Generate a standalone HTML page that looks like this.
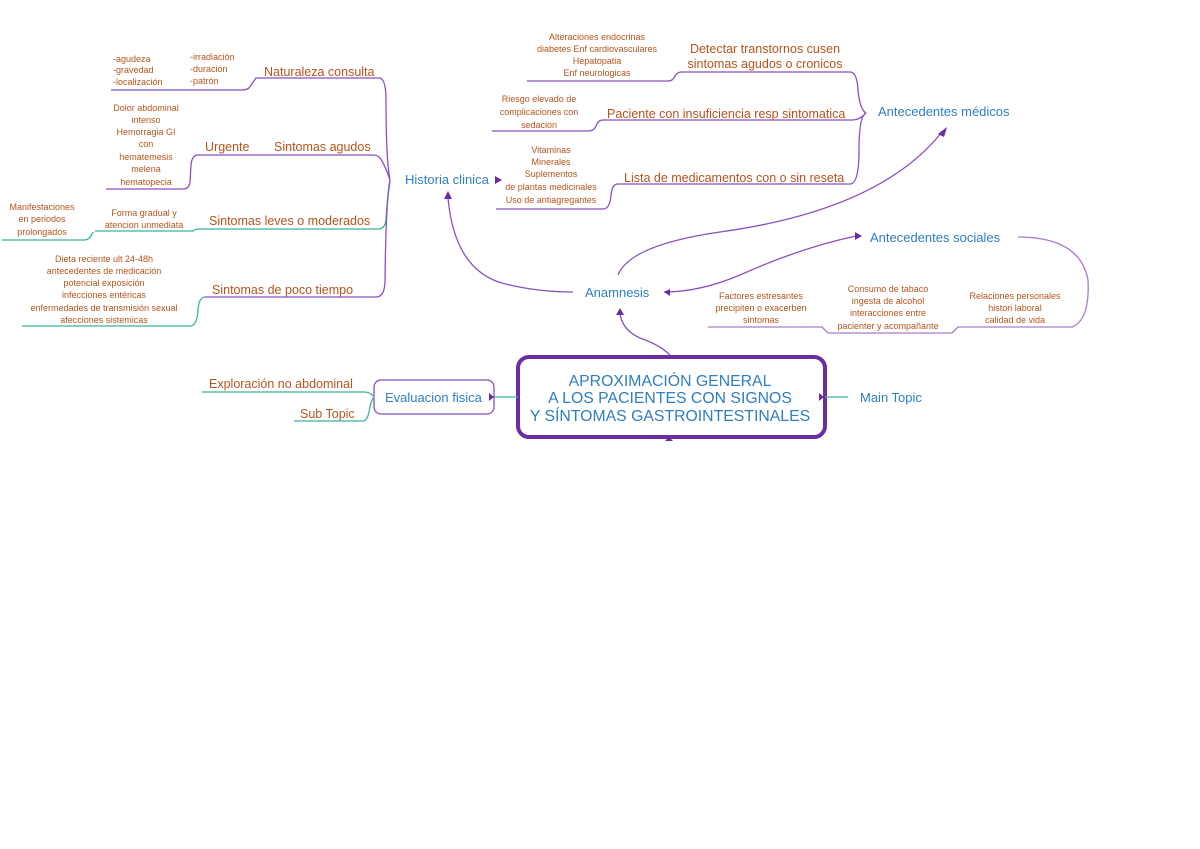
<!DOCTYPE html>
<html><head><meta charset="utf-8"><style>
html,body{margin:0;padding:0;background:#fff;}
svg{display:block;font-family:"Liberation Sans",sans-serif;}
.o{fill:#b5541c;font-size:9px;text-anchor:middle}
.ol{fill:#b5541c;font-size:9px}
.m{fill:#b5541c;font-size:12.5px}
.b{fill:#2e7ec0;font-size:13px}
.p{fill:none;stroke:#8a4fc0;stroke-width:1.3}
.t{fill:none;stroke:#3ab59a;stroke-width:1.3}
.ah{fill:#6a2c9e}
</style></head><body>
<svg width="1200" height="849" viewBox="0 0 1200 849" xmlns="http://www.w3.org/2000/svg">
<!-- Main box -->
<rect x="518" y="357" width="307" height="80" rx="11" fill="#fff" stroke="#6a2c9e" stroke-width="4"/>
<text x="670" y="386" class="b" style="font-size:15.8px" text-anchor="middle">APROXIMACIÓN GENERAL</text>
<text x="670" y="403" class="b" style="font-size:15.8px" text-anchor="middle">A LOS PACIENTES CON SIGNOS</text>
<text x="670" y="421" class="b" style="font-size:15.8px" text-anchor="middle">Y SÍNTOMAS GASTROINTESTINALES</text>
<path class="t" d="M825 397 H848"/>
<text x="860" y="402" class="b">Main Topic</text>
<path class="ah" d="M819 393 L824 397 L819 401 Z"/>
<path class="ah" d="M665 441 L669 437 L673 441 Z"/>

<!-- Evaluacion fisica -->
<path class="t" d="M494 397 H518"/>
<rect x="374" y="380" width="120" height="34" rx="7" fill="#fff" stroke="#8a4fc0" stroke-width="1.3"/>
<text x="385" y="402" class="b">Evaluacion fisica</text>
<path class="ah" d="M489 393 L494 397 L489 401 Z"/>
<path class="t" d="M202 392 H364 Q370 392 373 396 M294 421 H363 Q367 421 369 412 Q371 400 374 397"/>
<text x="209" y="388" class="m">Exploración no abdominal</text>
<text x="300" y="418" class="m">Sub Topic</text>

<!-- Historia clinica -->
<text x="405" y="184" class="b">Historia clinica</text>
<path class="ah" d="M495 176 L502 180 L495 184 Z"/>
<path class="p" d="M390 180 Q386 160 386 100 Q386 80 380 78 H256 L249 88 Q247 90 240 90 H111"/>
<path class="p" d="M390 180 Q385 165 380 158 Q378 155 372 155 H198 Q192 155 191 165 L190 182 Q189 189 183 189 H106"/>
<path class="t" d="M390 182 Q387 200 386 220 Q385 229 378 229 H200 Q195 229 193 231 H95"/>
<path class="t" d="M93 232 Q90 240 84 240 H2"/>
<path class="p" d="M390 180 Q386 200 385 280 Q385 297 376 297 H205"/>
<path class="t" d="M205 297 Q199 297 198 310 Q197 326 190 326 H22"/>
<text x="264" y="76" class="m">Naturaleza consulta</text>
<text x="113" y="62" class="ol">-agudeza</text>
<text x="113" y="73" class="ol">-gravedad</text>
<text x="113" y="85" class="ol">-localización</text>
<text x="190" y="60" class="ol">-irradiación</text>
<text x="190" y="72" class="ol">-duración</text>
<text x="190" y="84" class="ol">-patrón</text>
<text x="205" y="151" class="m">Urgente</text>
<text x="274" y="151" class="m">Sintomas agudos</text>
<text x="146" y="111" class="o">Dolor abdominal</text>
<text x="146" y="123" class="o">intenso</text>
<text x="146" y="135" class="o">Hemorragia GI</text>
<text x="146" y="147" class="o">con</text>
<text x="146" y="160" class="o">hematemesis</text>
<text x="146" y="172" class="o">melena</text>
<text x="146" y="185" class="o">hematopecia</text>
<text x="209" y="225" class="m">Sintomas leves o moderados</text>
<text x="144" y="216" class="o">Forma gradual y</text>
<text x="144" y="228" class="o">atencion unmediata</text>
<text x="42" y="210" class="o">Manifestaciones</text>
<text x="42" y="222" class="o">en periodos</text>
<text x="42" y="235" class="o">prolongados</text>
<text x="212" y="294" class="m">Sintomas de poco tiempo</text>
<text x="104" y="262" class="o">Dieta reciente ult 24-48h</text>
<text x="104" y="274" class="o">antecedentes de medicación</text>
<text x="104" y="286" class="o">potencial exposición</text>
<text x="104" y="298" class="o">infecciones entéricas</text>
<text x="104" y="311" class="o">enfermedades de transmisión sexual</text>
<text x="104" y="323" class="o">afecciones sistemicas</text>

<!-- Antecedentes médicos -->
<text x="878" y="116" class="b">Antecedentes médicos</text>
<path class="p" d="M866 113 Q860 110 858 90 Q857 72 850 72 H682 Q677 72 675 76 Q673 81 668 81 H527"/>
<path class="p" d="M866 113 Q860 120 852 120 H603 Q598 120 596 126 Q594 131 588 131 H492"/>
<path class="p" d="M866 113 Q859 116 859 150 Q859 184 850 184 H618 Q612 184 611 195 Q610 209 603 209 H496"/>
<text x="765" y="53" class="m" text-anchor="middle">Detectar transtornos cusen</text>
<text x="765" y="68" class="m" text-anchor="middle">sintomas agudos o cronicos</text>
<text x="597" y="40" class="o">Alteraciones endocrinas</text>
<text x="597" y="52" class="o">diabetes Enf cardiovasculares</text>
<text x="597" y="64" class="o">Hepatopatia</text>
<text x="597" y="76" class="o">Enf neurologicas</text>
<text x="607" y="118" class="m">Paciente con insuficiencia resp sintomatica</text>
<text x="539" y="102" class="o">Riesgo elevado de</text>
<text x="539" y="115" class="o">complicaciones con</text>
<text x="539" y="128" class="o">sedacion</text>
<text x="624" y="182" class="m">Lista de medicamentos con o sin reseta</text>
<text x="551" y="153" class="o">Vitaminas</text>
<text x="551" y="165" class="o">Minerales</text>
<text x="551" y="177" class="o">Suplementos</text>
<text x="551" y="190" class="o">de plantas medicinales</text>
<text x="551" y="203" class="o">Uso de antiagregantes</text>

<!-- Anamnesis -->
<text x="585" y="297" class="b">Anamnesis</text>
<path class="p" d="M573 292 Q540 292 510 285 Q455 275 448 198"/>
<path class="ah" d="M444 199 L448 191 L452 199 Z"/>
<path class="p" d="M618 275 Q630 245 720 232 Q880 210 942 132"/>
<path class="ah" d="M938 134 L947 127 L944 137 Z"/>
<path class="p" d="M664 292 Q700 292 740 275 Q800 248 856 236"/>
<path class="ah" d="M855 232 L862 236 L855 240 Z"/>
<path class="ah" d="M670 289 L664 292 L670 296 Z"/>
<path class="p" d="M670 355 Q660 345 640 338 Q622 330 620 313"/>
<path class="ah" d="M616 315 L620 308 L624 315 Z"/>

<!-- Antecedentes sociales -->
<text x="870" y="242" class="b">Antecedentes sociales</text>
<path class="p" d="M1018 237 Q1080 237 1088 280 Q1090 320 1072 327 H958 L952 333 H828 L822 327 H708" style="stroke:#a77ad0"/>
<text x="761" y="299" class="o">Factores estresantes</text>
<text x="761" y="311" class="o">precipiten o exacerben</text>
<text x="761" y="323" class="o">sintomas</text>
<text x="888" y="292" class="o">Consumo de tabaco</text>
<text x="888" y="304" class="o">ingesta de alcohol</text>
<text x="888" y="316" class="o">interacciones entre</text>
<text x="888" y="329" class="o">pacienter y acompañante</text>
<text x="1015" y="299" class="o">Relaciones personales</text>
<text x="1015" y="311" class="o">histori laboral</text>
<text x="1015" y="323" class="o">calidad de vida</text>
</svg>
</body></html>
